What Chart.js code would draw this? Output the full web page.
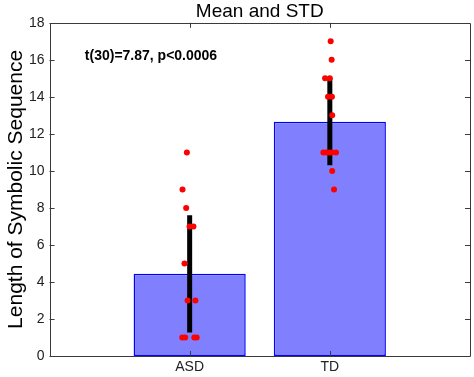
<!DOCTYPE html>
<html>
<head>
<meta charset="utf-8">
<script src="https://cdn.jsdelivr.net/npm/chart.js@4"></script>
<style>
html,body{margin:0;padding:0;background:#fff;}
#wrap{width:474px;height:377px;}
</style>
</head>
<body>
<div id="wrap"><canvas id="c" width="474" height="377"></canvas></div>
<script>
const categories = ['ASD', 'TD'];
const means = [4.44, 12.66];
const stds = [3.17, 2.36];
const asdX = [0.980, 0.949, 0.975, 0.999, 1.027, 0.963, 0.985, 1.041, 0.947, 0.968, 1.033, 1.050];
const asdY = [11, 9, 8, 7, 7, 5, 3, 3, 1, 1, 1, 1];
const tdX = [2.006, 2.013, 1.966, 2.000, 1.987, 2.015, 2.017, 1.954, 1.975, 1.994, 2.015, 2.044, 2.017, 2.030];
const tdY = [17, 16, 15, 15, 14, 14, 13, 11, 11, 11, 11, 11, 10, 9];
const yTicks = [0, 2, 4, 6, 8, 10, 12, 14, 16, 18];
const annotation = 't(30)=7.87, p<0.0006';
const annotationPos = {x: 0.252, y: 16.2};

const FONT = "'Liberation Sans', Arial, sans-serif";

const barData = categories.map((c, i) => ({x: i + 1, y: means[i]}));
const errSets = categories.map((c, i) => ({
  type: 'line',
  data: [{x: i + 1, y: means[i] - stds[i]}, {x: i + 1, y: means[i] + stds[i]}],
  borderColor: '#000',
  borderWidth: 5,
  borderCapStyle: 'butt',
  pointRadius: 0,
  fill: false,
  order: 1
}));
const pts = asdX.map((x, i) => ({x, y: asdY[i]})).concat(tdX.map((x, i) => ({x, y: tdY[i]})));

const boxPlugin = {
  id: 'box',
  afterDraw(chart) {
    const {ctx, chartArea: a, scales: {x, y}} = chart;
    ctx.save();
    ctx.strokeStyle = '#3a3a3a';
    ctx.lineWidth = 1;
    ctx.beginPath();
    ctx.rect(Math.round(a.left) + 0.5, Math.round(a.top) + 0.5, Math.round(a.right - a.left) - 1, Math.round(a.bottom - a.top));
    ctx.stroke();
    const L = 5;
    ctx.beginPath();
    yTicks.forEach(v => {
      const py = Math.round(y.getPixelForValue(v)) + 0.5;
      ctx.moveTo(a.left, py); ctx.lineTo(a.left + L, py);
      ctx.moveTo(a.right, py); ctx.lineTo(a.right - L, py);
    });
    categories.forEach((c, i) => {
      const px = Math.round(x.getPixelForValue(i + 1)) + 0.5;
      ctx.moveTo(px, a.top); ctx.lineTo(px, a.top + L);
      ctx.moveTo(px, a.bottom); ctx.lineTo(px, a.bottom - L);
    });
    ctx.stroke();
    ctx.fillStyle = '#000';
    ctx.font = 'bold 14px ' + FONT;
    ctx.textAlign = 'left';
    ctx.textBaseline = 'middle';
    ctx.fillText(annotation, x.getPixelForValue(annotationPos.x), y.getPixelForValue(annotationPos.y));
    ctx.restore();
  }
};

new Chart(document.getElementById('c'), {
  data: {
    datasets: [
      {
        type: 'bar',
        data: barData,
        backgroundColor: 'rgb(128,128,255)',
        borderColor: '#0000ff',
        borderWidth: 1.5,
        borderSkipped: false,
        barPercentage: 0.8,
        categoryPercentage: 1.0,
        order: 2
      },
      ...errSets,
      {
        type: 'scatter',
        data: pts,
        backgroundColor: '#ff0000',
        borderColor: '#ff0000',
        pointRadius: 3,
        borderWidth: 0,
        order: 0
      }
    ]
  },
  options: {
    responsive: false,
    animation: false,
    layout: {padding: {left: 0, right: 2.5, top: 0, bottom: 0}},
    plugins: {
      legend: {display: false},
      tooltip: {enabled: false},
      title: {
        display: true,
        text: 'Mean and STD',
        color: '#000',
        fullSize: false,
        font: {family: FONT, size: 19, weight: 'normal'},
        padding: {top: 0, bottom: 0}
      }
    },
    scales: {
      x: {
        type: 'linear',
        min: 0, max: 3,
        offset: false,
        grid: {display: false, drawTicks: false},
        border: {display: false},
        afterBuildTicks: s => { s.ticks = categories.map((c, i) => ({value: i + 1})); },
        afterFit: s => { s.height = 21; },
        ticks: {
          callback: v => categories[v - 1],
          color: '#222',
          padding: 3,
          maxRotation: 0,
          font: {family: FONT, size: 14}
        }
      },
      y: {
        min: 0, max: 18,
        grid: {display: false, drawTicks: false},
        border: {display: false},
        afterBuildTicks: s => { s.ticks = yTicks.map(v => ({value: v})); },
        afterFit: s => { s.width = 49.5; },
        ticks: {color: '#222', padding: 5, font: {family: FONT, size: 14}},
        title: {
          display: true,
          text: 'Length of Symbolic Sequence',
          color: '#000',
          font: {family: FONT, size: 21},
          padding: {top: 4, bottom: 0}
        }
      }
    }
  },
  plugins: [boxPlugin]
});
</script>
</body>
</html>
